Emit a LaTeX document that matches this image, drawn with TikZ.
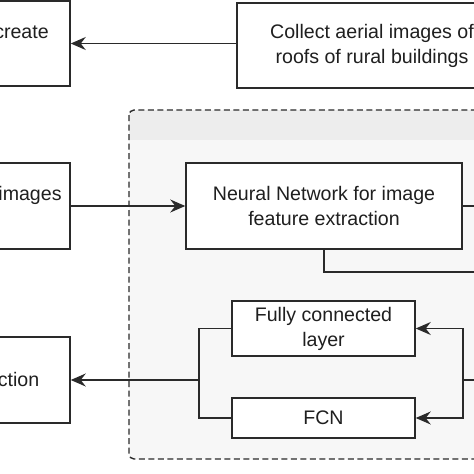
\documentclass[tikz,border=0pt]{standalone}
\usepackage{fontspec}
\setmainfont{Liberation Sans}
\usetikzlibrary{arrows.meta}
\definecolor{linec}{HTML}{2A2A2A}
\definecolor{bodyc}{HTML}{F7F7F7}
\definecolor{headc}{HTML}{EDEDED}
\begin{document}
\begin{tikzpicture}[x=1pt,y=-1pt,
  box/.style={draw=linec, line width=1.5pt, fill=white, rectangle, inner sep=0pt, align=center, text=black!88, font=\fontsize{19.6}{25}\selectfont},
  txt/.style={font=\fontsize{19.6}{25}\selectfont, text=black!88, inner sep=0pt, anchor=base},
  conn/.style={draw=linec, line width=1.3pt},
  arr/.style={conn, -{Stealth[length=15pt,width=13pt,inset=5pt]}}]
\useasboundingbox (0,0) rectangle (474,474);
\clip (0,0) rectangle (474,474);
% container
\begin{scope}
  \clip[rounded corners=5pt] (129,110) rectangle (530,459);
  \fill[bodyc] (129,110) rectangle (530,459);
  \fill[headc] (129,110) rectangle (530,140);
\end{scope}
\draw[linec, line width=1.4pt, dash pattern=on 6pt off 3.5pt, rounded corners=5pt] (129,110) rectangle (530,459);
% boxes
\node[box, minimum width=100pt, minimum height=85pt] (tl) at (20,43.5) {};
\node[txt] (tlt) at (21.5,38) {create};
\node[box, minimum width=270pt, minimum height=85pt] (tr) at (372,45.5) {Collect aerial images of\\roofs of rural buildings};
\node[box, minimum width=100pt, minimum height=86pt] (ml) at (20,206) {};
\node[txt] (mlt) at (30,200) {images};
\node[box, minimum width=276pt, minimum height=86pt] (nn) at (324,206) {Neural Network for image\\feature extraction};
\node[box, minimum width=183pt, minimum height=55pt] (fc) at (323.5,328.5) {Fully connected\\layer};
\node[box, minimum width=183pt, minimum height=40pt] (fcn) at (323.5,418) {FCN};
\node[box, minimum width=100pt, minimum height=86pt] (bl) at (20,380) {};
\node[txt] (blt) at (18.5,386.7) {ction};
% connectors
\draw[arr] (tr.west |- tl.east) -- (tl.east);
\draw[arr] (ml.east) -- (nn.west);
\coordinate (e1) at (490,206);
\coordinate (e2) at (490,272);
\coordinate (e3) at (490,380);
\coordinate (rj) at (463,380);
\coordinate (lj) at (199,380);
\draw[conn] (nn.east) -- (e1);
\draw[conn] (nn.south) |- (e2);
\draw[conn] (e3) -- (rj);
\draw[arr] (rj) |- (fc.east);
\draw[arr] (rj) |- (fcn.east);
\draw[conn] (fc.west) -| (lj);
\draw[conn] (fcn.west) -| (lj);
\draw[arr] (lj) -- (bl.east);
\end{tikzpicture}
\end{document}
